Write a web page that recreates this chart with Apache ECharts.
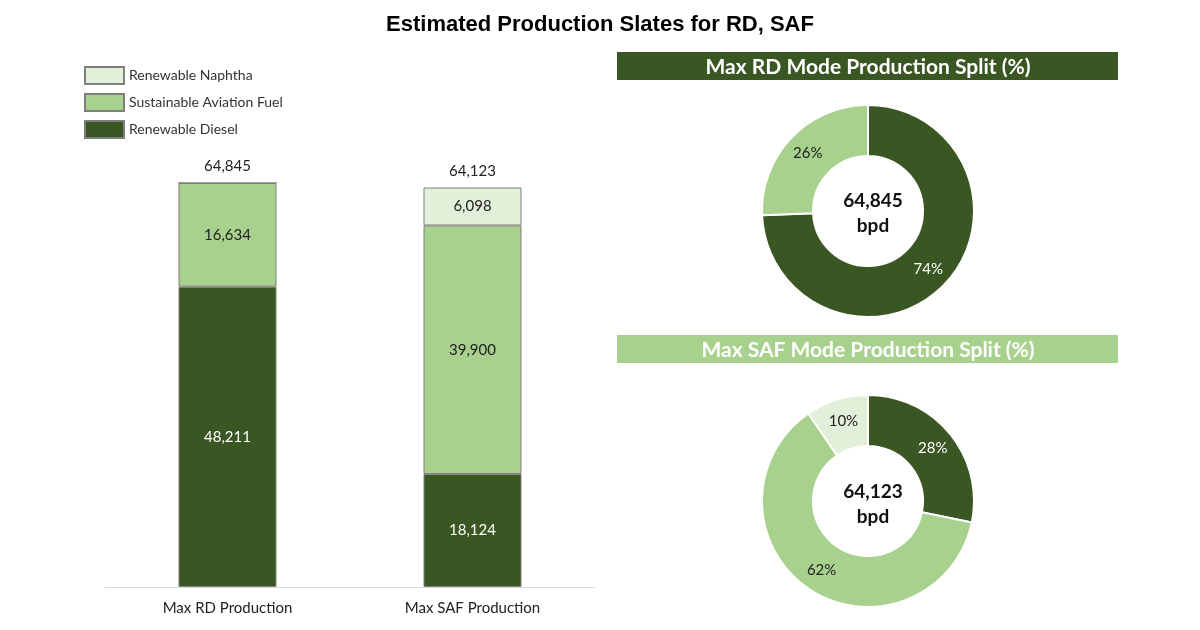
<!DOCTYPE html>
<html>
<head>
<meta charset="utf-8">
<script src="https://cdn.jsdelivr.net/npm/echarts@6/dist/echarts.min.js"></script>
<style>
  html, body { margin: 0; padding: 0; background: #fff; }
  #chart { width: 1200px; height: 630px; }
</style>
</head>
<body>
<div id="chart"></div>
<script>
var cases = ['Max RD Production', 'Max SAF Production'];
var diesel = [48211, 18124];
var saf = [16634, 39900];
var naphtha = [0, 6098];
var totals = [64845, 64123];

var DARK = '#3a5723', MID = '#a9d18e', PALE = '#e2f0d9', EDGE = '#7f7f7f';
var FONT = 'Lato, "Open Sans", sans-serif';

function fmt(v) { return v ? v.toLocaleString('en-US') : ''; }

function donut(idx, cy) {
    var items = [
        { name: 'Renewable Diesel', value: diesel[idx], itemStyle: { color: DARK }, label: { color: '#fff' } },
        { name: 'Sustainable Aviation Fuel', value: saf[idx], itemStyle: { color: MID } },
        { name: 'Renewable Naphtha', value: naphtha[idx], itemStyle: { color: PALE } }
    ].filter(function (d) { return d.value > 0; });
    return {
        type: 'pie',
        center: [868, cy],
        radius: [55, 106],
        startAngle: 90,
        clockwise: true,
        percentPrecision: 0,
        avoidLabelOverlap: false,
        itemStyle: { borderColor: '#fff', borderWidth: 2 },
        label: {
            show: true, position: 'inside', formatter: '{d}%',
            color: '#222', fontSize: 15, fontFamily: FONT
        },
        labelLine: { show: false },
        emphasis: { disabled: true },
        data: items
    };
}

var myChart = echarts.init(document.getElementById('chart'));

var option = {
    animation: false,
    title: [
        {
            text: 'Estimated Production Slates for RD, SAF',
            left: 'center', top: 9,
            textStyle: { fontFamily: '"Liberation Sans", Arial, sans-serif', fontSize: 22, fontWeight: 'bold', color: '#000' }
        },
        {
            text: fmt(totals[0]) + '\nbpd',
            left: 868, top: 183, textAlign: 'center',
            textStyle: { fontFamily: FONT, fontSize: 19, fontWeight: 'bold', color: '#111', lineHeight: 25 }
        },
        {
            text: fmt(totals[1]) + '\nbpd',
            left: 868, top: 474, textAlign: 'center',
            textStyle: { fontFamily: FONT, fontSize: 19, fontWeight: 'bold', color: '#111', lineHeight: 25 }
        }
    ],
    graphic: [
        { type: 'rect', shape: { x: 617, y: 52, width: 501, height: 28 }, style: { fill: DARK } },
        { type: 'text', x: 868, y: 67, style: { text: 'Max RD Mode Production Split (%)', fill: '#fff', font: 'bold 21px ' + FONT, textAlign: 'center', textVerticalAlign: 'middle' } },
        { type: 'rect', shape: { x: 617, y: 335, width: 501, height: 28 }, style: { fill: MID } },
        { type: 'text', x: 868, y: 350, style: { text: 'Max SAF Mode Production Split (%)', fill: '#fff', font: 'bold 21px ' + FONT, textAlign: 'center', textVerticalAlign: 'middle' } }
    ],
    legend: {
        orient: 'vertical',
        left: 84, top: 66, padding: 0,
        itemWidth: 39, itemHeight: 17, itemGap: 8,
        icon: 'rect',
        data: ['Renewable Naphtha', 'Sustainable Aviation Fuel', 'Renewable Diesel'],
        textStyle: { fontFamily: FONT, fontSize: 14, color: '#333', lineHeight: 17 },
        selectedMode: false
    },
    grid: { left: 105, width: 490, top: 183, bottom: 43 },
    xAxis: {
        type: 'category',
        data: cases,
        axisLine: { lineStyle: { color: '#d9d9d9', width: 1 } },
        axisTick: { show: false },
        axisLabel: { color: '#222', fontSize: 15, fontFamily: FONT, margin: 14 }
    },
    yAxis: {
        type: 'value', min: 0, max: totals[0],
        show: false, splitLine: { show: false }
    },
    series: [
        {
            name: 'Renewable Diesel', type: 'bar', stack: 'p', barWidth: 98, data: diesel,
            itemStyle: { color: DARK, borderColor: EDGE, borderWidth: 1 },
            label: { show: true, position: 'inside', color: '#fff', fontSize: 15, fontFamily: FONT,
                formatter: function (p) { return fmt(p.value); } }
        },
        {
            name: 'Sustainable Aviation Fuel', type: 'bar', stack: 'p', barWidth: 98, data: saf,
            itemStyle: { color: MID, borderColor: EDGE, borderWidth: 1 },
            label: { show: true, position: 'inside', color: '#222', fontSize: 15, fontFamily: FONT,
                formatter: function (p) { return fmt(p.value); } }
        },
        {
            name: 'Renewable Naphtha', type: 'bar', stack: 'p', barWidth: 98, data: naphtha,
            itemStyle: { color: PALE, borderColor: EDGE, borderWidth: 1 },
            label: { show: true, position: 'inside', color: '#222', fontSize: 15, fontFamily: FONT,
                formatter: function (p) { return fmt(p.value); } }
        },
        {
            name: 'Total', type: 'bar', stack: 'p', barWidth: 98, data: [0, 0],
            itemStyle: { color: 'transparent' },
            label: { show: true, position: 'top', distance: 9, color: '#222', fontSize: 15, fontFamily: FONT,
                formatter: function (p) { return fmt(totals[p.dataIndex]); } }
        },
        donut(0, 211),
        donut(1, 501)
    ]
};
myChart.setOption(option);
</script>
</body>
</html>
